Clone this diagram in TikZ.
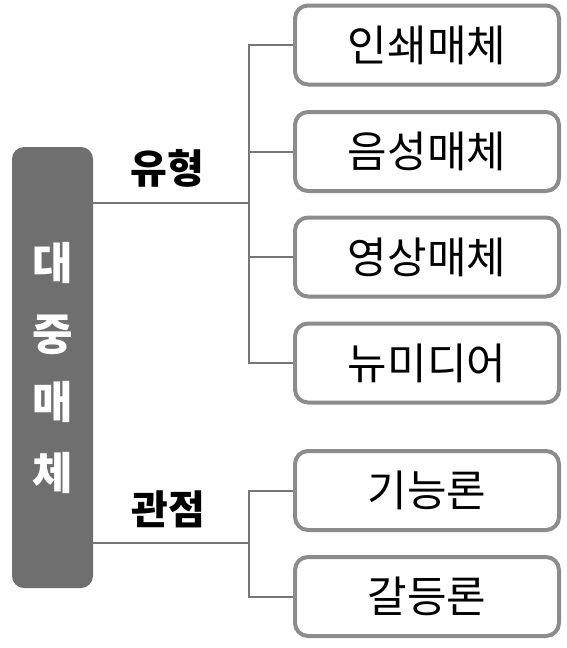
\documentclass[tikz,border=0pt]{standalone}
\usepackage{fontspec}
\newfontfamily\kr{Noto Sans CJK KR}
\definecolor{mainfill}{HTML}{6F6F6F}
\definecolor{leafline}{HTML}{8C8C8C}
\definecolor{connline}{HTML}{767676}
\tikzset{
  mainbox/.style={fill=mainfill, draw=none, rounded corners=12pt, minimum width=81pt, minimum height=441pt, inner sep=0pt},
  maintext/.style={text=white, font=\kr\bfseries\fontsize{44}{44}\selectfont, inner sep=0pt},
  leaf/.style={draw=leafline, fill=white, line width=4pt, rounded corners=13pt, minimum width=264pt, minimum height=79pt, inner sep=0pt, font=\kr\fontsize{43}{43}\selectfont},
  cat/.style={font=\kr\bfseries\fontsize{40}{40}\selectfont, inner sep=0pt},
  conn/.style={draw=connline, line width=2pt}
}
\begin{document}
\begin{tikzpicture}[x=1pt,y=-1pt]
\useasboundingbox (0,0) rectangle (567,648);
\node[mainbox] (main) at (52.5,367.5) {};
\node[maintext] (t1) at (52.5,263) {대};
\node[maintext] (t2) at (52.5,335) {중};
\node[maintext] (t3) at (52.5,402) {매};
\node[maintext] (t4) at (52.5,473) {체};
\node[leaf] (b1) at (427,45) {인쇄매체};
\node[leaf] (b2) at (427,151.5) {음성매체};
\node[leaf] (b3) at (427,257) {영상매체};
\node[leaf] (b4) at (427,363) {뉴미디어};
\node[leaf] (b5) at (427,490.5) {기능론};
\node[leaf] (b6) at (427,596.5) {갈등론};
\node[cat] (c1) at (167,168) {유형};
\node[cat] (c2) at (168,509) {관점};
\coordinate (j1) at (249,203);
\coordinate (j2) at (249,543);
\draw[conn] (main.east |- j1) -- (j1);
\draw[conn] (b1.west) -| (j1) |- (b4.west);
\draw[conn] (j1 |- b2) -- (b2.west);
\draw[conn] (j1 |- b3) -- (b3.west);
\draw[conn] (main.east |- j2) -- (j2);
\draw[conn] (b5.west) -| (j2) |- (b6.west);
\end{tikzpicture}
\end{document}
